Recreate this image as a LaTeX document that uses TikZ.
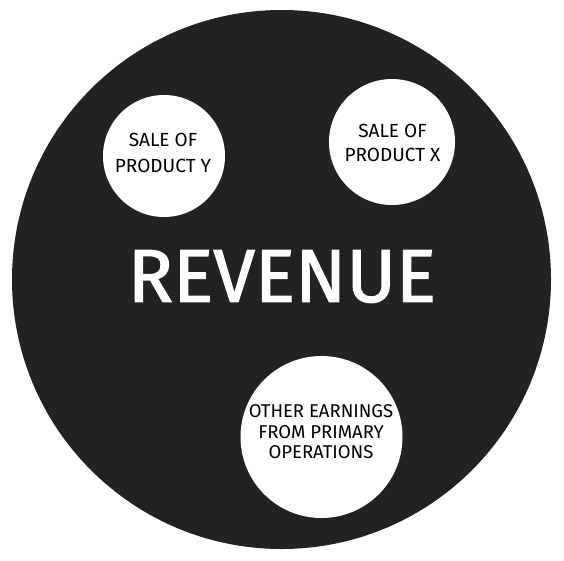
\documentclass[tikz,border=0pt]{standalone}
\usepackage{fontspec}
\setmainfont{Fira Sans}
\newfontfamily\revfont{Fira Sans}[BoldFont={Fira Sans},BoldFeatures={FakeBold=1.6}]
\usepackage{tikz}
\usetikzlibrary{shapes.geometric}
\definecolor{revdark}{HTML}{222222}

\begin{document}
\begin{tikzpicture}[x=1pt,y=-1pt,
    bubble/.style={shape=circle,fill=white,inner sep=0pt,align=center,text=black}]
            \useasboundingbox (0,0) rectangle (564,560);
            \node (revenue) at (281.5,279.5) [shape=circle,fill=revdark,minimum size=539pt,inner sep=0pt] {};
            \node (revtext) at (282,276.5) [text=white,inner sep=0pt,font=\revfont\bfseries\fontsize{75}{75}\selectfont] {REVENUE};

            \node (prody) at (164,156) [bubble,minimum size=122pt] {};
            \node (prodx) at (392,142) [bubble,minimum size=126pt] {};
            \node (other) at (321.5,437) [bubble,minimum size=162pt] {};

            \node (prodytext) at (163,153) [align=center,font=\fontsize{19}{26}\selectfont] {SALE OF\\PRODUCT Y};
            \node (prodxtext) at (392.5,143) [align=center,font=\fontsize{19}{24.5}\selectfont] {SALE OF\\PRODUCT X};
            \node (othertext) at (321,432) [align=center,font=\fontsize{18.5}{20.5}\selectfont] {OTHER EARNINGS\\FROM PRIMARY\\OPERATIONS};
\end{tikzpicture}
\end{document}
